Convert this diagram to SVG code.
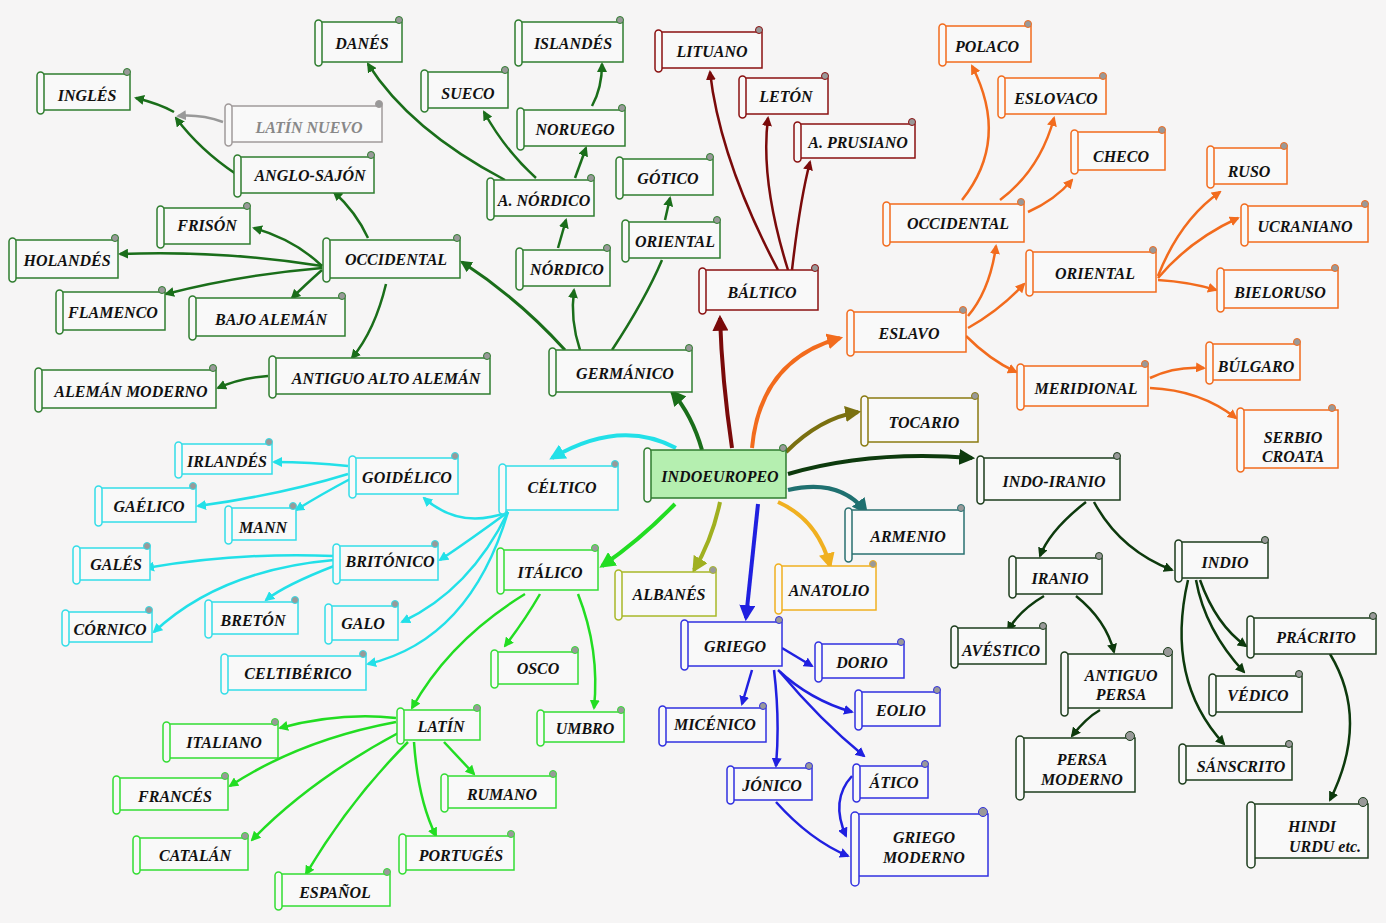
<svg xmlns="http://www.w3.org/2000/svg" width="1386" height="923" viewBox="0 0 1386 923">
<style>
text{font-family:"Liberation Serif",serif;font-weight:bold;font-style:italic;font-size:16px;fill:#111;text-anchor:middle}
.n rect{fill:#f9f9f9;stroke-width:1.5}
.n circle{fill:#999;stroke-width:1}
path{fill:none;stroke-width:2.5}
.g rect,.g circle{stroke:#2f7d2f}.gr rect,.gr circle{stroke:#a09a9a}.dr rect,.dr circle{stroke:#8a1010}.or rect,.or circle{stroke:#f26b1d}
.ol rect,.ol circle{stroke:#8a7a10}.dk rect,.dk circle{stroke:#1d3d1d}.te rect,.te circle{stroke:#2a7070}.go rect,.go circle{stroke:#f0b020}
.yg rect,.yg circle{stroke:#a8b828}.bl rect,.bl circle{stroke:#3030e0}.lg rect,.lg circle{stroke:#33dd33}.cy rect,.cy circle{stroke:#33dde8}
.gr text{fill:#888}
</style>
<defs>
<marker id="mg" viewBox="0 0 10 10" refX="8" refY="5" markerWidth="4" markerHeight="4" orient="auto"><path d="M0,0L10,5L0,10z" style="fill:#1a6e1a;stroke:none"/></marker>
<marker id="mgr" viewBox="0 0 10 10" refX="8" refY="5" markerWidth="4" markerHeight="4" orient="auto"><path d="M0,0L10,5L0,10z" style="fill:#999;stroke:none"/></marker>
<marker id="mdr" viewBox="0 0 10 10" refX="8" refY="5" markerWidth="4" markerHeight="4" orient="auto"><path d="M0,0L10,5L0,10z" style="fill:#7a0a0a;stroke:none"/></marker>
<marker id="mor" viewBox="0 0 10 10" refX="8" refY="5" markerWidth="4" markerHeight="4" orient="auto"><path d="M0,0L10,5L0,10z" style="fill:#f26b1d;stroke:none"/></marker>
<marker id="mol" viewBox="0 0 10 10" refX="8" refY="5" markerWidth="4" markerHeight="4" orient="auto"><path d="M0,0L10,5L0,10z" style="fill:#7a7010;stroke:none"/></marker>
<marker id="mdk" viewBox="0 0 10 10" refX="8" refY="5" markerWidth="4" markerHeight="4" orient="auto"><path d="M0,0L10,5L0,10z" style="fill:#0d3a0d;stroke:none"/></marker>
<marker id="mte" viewBox="0 0 10 10" refX="8" refY="5" markerWidth="4" markerHeight="4" orient="auto"><path d="M0,0L10,5L0,10z" style="fill:#1f7070;stroke:none"/></marker>
<marker id="mgo" viewBox="0 0 10 10" refX="8" refY="5" markerWidth="4" markerHeight="4" orient="auto"><path d="M0,0L10,5L0,10z" style="fill:#f0b020;stroke:none"/></marker>
<marker id="myg" viewBox="0 0 10 10" refX="8" refY="5" markerWidth="4" markerHeight="4" orient="auto"><path d="M0,0L10,5L0,10z" style="fill:#a0b020;stroke:none"/></marker>
<marker id="mbl" viewBox="0 0 10 10" refX="8" refY="5" markerWidth="4" markerHeight="4" orient="auto"><path d="M0,0L10,5L0,10z" style="fill:#2020e0;stroke:none"/></marker>
<marker id="mlg" viewBox="0 0 10 10" refX="8" refY="5" markerWidth="4" markerHeight="4" orient="auto"><path d="M0,0L10,5L0,10z" style="fill:#22dd22;stroke:none"/></marker>
<marker id="mcy" viewBox="0 0 10 10" refX="8" refY="5" markerWidth="4" markerHeight="4" orient="auto"><path d="M0,0L10,5L0,10z" style="fill:#22e0e8;stroke:none"/></marker>
</defs>
<rect width="1386" height="923" fill="#f6f5f5"/>
<g id="connectors">
<g stroke="#1a6e1a" marker-end="url(#mg)">
<path d="M565,350 Q520,300 462,262" style="stroke-width:3"/>
<path d="M580,350 Q570,320 574,290"/>
<path d="M612,350 Q645,300 662,260" marker-end="none"/>
<path d="M665,220 L670,198"/>
<path d="M558,248 L566,220"/>
<path d="M575,178 L586,148"/>
<path d="M536,178 Q505,150 484,112"/>
<path d="M505,180 Q410,130 368,64"/>
<path d="M592,106 Q602,88 602,64"/>
<path d="M368,238 Q356,212 334,192"/>
<path d="M236,174 Q200,150 176,118"/>
<path d="M174,112 Q160,104 136,98"/>
<path d="M322,266 Q295,240 254,228"/>
<path d="M322,266 Q220,250 120,254"/>
<path d="M322,268 Q240,275 166,294"/>
<path d="M322,270 Q305,285 292,298"/>
<path d="M386,284 Q375,330 352,358"/>
<path d="M268,376 Q240,378 218,388"/>
<path d="M702,450 Q692,415 672,392" style="stroke-width:4"/>
</g>
<path d="M223,122 Q200,114 178,116" stroke="#999" marker-end="url(#mgr)"/>
<g stroke="#7a0a0a" marker-end="url(#mdr)">
<path d="M778,270 Q720,160 710,72"/>
<path d="M788,270 Q760,180 768,118"/>
<path d="M792,270 Q800,200 810,162"/>
<path d="M732,448 Q722,380 720,318" style="stroke-width:4"/>
</g>
<g stroke="#f26b1d" marker-end="url(#mor)">
<path d="M752,448 Q760,360 840,338" style="stroke-width:4"/>
<path d="M968,316 Q990,290 996,246"/>
<path d="M968,328 Q1000,310 1024,284"/>
<path d="M966,336 Q990,360 1016,372"/>
<path d="M962,200 Q1010,140 972,66"/>
<path d="M1000,200 Q1040,170 1054,118"/>
<path d="M1028,212 Q1055,200 1072,180"/>
<path d="M1158,276 Q1180,220 1220,192"/>
<path d="M1158,278 Q1190,240 1238,218"/>
<path d="M1158,280 Q1190,282 1216,290"/>
<path d="M1150,378 Q1175,366 1204,368"/>
<path d="M1150,388 Q1200,390 1236,418"/>
</g>
<path d="M786,452 Q820,418 858,412" stroke="#7a7010" style="stroke-width:4" marker-end="url(#mol)"/>
<g stroke="#0d3a0d" marker-end="url(#mdk)">
<path d="M788,474 Q870,450 972,458" style="stroke-width:4"/>
<path d="M1086,502 Q1050,530 1040,556"/>
<path d="M1094,502 Q1120,550 1172,570"/>
<path d="M1044,596 Q1020,610 1008,630"/>
<path d="M1076,596 Q1106,620 1114,652"/>
<path d="M1100,710 Q1086,718 1072,736"/>
<path d="M1200,580 Q1216,625 1246,646"/>
<path d="M1196,580 Q1205,630 1244,672"/>
<path d="M1188,580 Q1165,680 1224,744"/>
<path d="M1330,654 Q1370,720 1330,800"/>
</g>
<path d="M788,490 Q840,478 866,512" stroke="#1f7070" style="stroke-width:4" marker-end="url(#mte)"/>
<path d="M778,502 Q818,520 830,566" stroke="#f0b020" style="stroke-width:4" marker-end="url(#mgo)"/>
<path d="M720,502 Q712,540 694,570" stroke="#a0b020" style="stroke-width:4" marker-end="url(#myg)"/>
<g stroke="#2020e0" marker-end="url(#mbl)">
<path d="M758,504 Q752,560 746,618" style="stroke-width:4"/>
<path d="M782,648 L812,666"/>
<path d="M752,670 L742,704"/>
<path d="M774,670 Q780,720 776,766"/>
<path d="M778,670 Q810,700 852,712"/>
<path d="M780,672 Q820,720 864,756"/>
<path d="M776,802 Q810,840 848,856"/>
<path d="M852,776 Q830,800 846,836"/>
</g>
<g stroke="#22dd22" marker-end="url(#mlg)">
<path d="M675,504 Q640,540 602,566" style="stroke-width:4"/>
<path d="M540,594 Q525,620 505,646"/>
<path d="M578,594 Q600,650 594,708"/>
<path d="M525,594 Q450,640 412,708"/>
<path d="M396,718 Q340,712 280,728"/>
<path d="M396,722 Q300,740 230,786"/>
<path d="M400,732 Q310,780 252,840"/>
<path d="M408,742 Q350,800 306,874"/>
<path d="M414,742 Q418,800 436,836"/>
<path d="M444,742 L474,774"/>
</g>
<g stroke="#22e0e8" marker-end="url(#mcy)">
<path d="M676,448 Q620,418 552,458" style="stroke-width:4"/>
<path d="M348,466 Q310,462 274,462"/>
<path d="M348,474 Q280,495 198,506"/>
<path d="M352,478 Q320,495 296,510"/>
<path d="M508,512 Q460,530 424,498"/>
<path d="M508,512 Q470,540 440,560"/>
<path d="M508,512 Q470,590 402,622"/>
<path d="M508,512 Q470,640 368,664"/>
<path d="M334,556 Q240,552 146,568"/>
<path d="M334,560 Q220,570 154,632"/>
<path d="M334,566 Q285,585 266,600"/>
</g>
</g>
<g id="n-danes" class="n g"><rect x="318" y="22" width="84" height="40"/><rect x="315" y="20" width="7" height="46" rx="3.5"/><circle cx="399" cy="20" r="3.5"/><text x="362" y="49">DANÉS</text></g>
<g id="n-islandes" class="n g"><rect x="518" y="22" width="105" height="40"/><rect x="515" y="20" width="7" height="46" rx="3.5"/><circle cx="620" cy="20" r="3.5"/><text x="573" y="49">ISLANDÉS</text></g>
<g id="n-ingles" class="n g"><rect x="40" y="74" width="90" height="36"/><rect x="37" y="72" width="7" height="42" rx="3.5"/><circle cx="127" cy="72" r="3.5"/><text x="87" y="101">INGLÉS</text></g>
<g id="n-sueco" class="n g"><rect x="424" y="72" width="84" height="36"/><rect x="421" y="70" width="7" height="42" rx="3.5"/><circle cx="505" cy="70" r="3.5"/><text x="468" y="99">SUECO</text></g>
<g id="n-latinnuevo" class="n gr"><rect x="228" y="106" width="154" height="36"/><rect x="225" y="104" width="7" height="42" rx="3.5"/><circle cx="379" cy="104" r="3.5"/><text x="309" y="133">LATÍN NUEVO</text></g>
<g id="n-noruego" class="n g"><rect x="520" y="110" width="105" height="36"/><rect x="517" y="108" width="7" height="42" rx="3.5"/><circle cx="622" cy="108" r="3.5"/><text x="575" y="135">NORUEGO</text></g>
<g id="n-anglosajon" class="n g"><rect x="237" y="157" width="137" height="36"/><rect x="234" y="155" width="7" height="42" rx="3.5"/><circle cx="371" cy="155" r="3.5"/><text x="310" y="181">ANGLO-SAJÓN</text></g>
<g id="n-gotico" class="n g"><rect x="619" y="159" width="94" height="36"/><rect x="616" y="157" width="7" height="42" rx="3.5"/><circle cx="710" cy="157" r="3.5"/><text x="668" y="184">GÓTICO</text></g>
<g id="n-anordico" class="n g"><rect x="490" y="180" width="104" height="36"/><rect x="487" y="178" width="7" height="42" rx="3.5"/><circle cx="591" cy="178" r="3.5"/><text x="544" y="206">A. NÓRDICO</text></g>
<g id="n-frison" class="n g"><rect x="160" y="208" width="90" height="36"/><rect x="157" y="206" width="7" height="42" rx="3.5"/><circle cx="247" cy="206" r="3.5"/><text x="207" y="231">FRISÓN</text></g>
<g id="n-oriental-g" class="n g"><rect x="625" y="222" width="95" height="36"/><rect x="622" y="220" width="7" height="42" rx="3.5"/><circle cx="717" cy="220" r="3.5"/><text x="675" y="247">ORIENTAL</text></g>
<g id="n-occidental-g" class="n g"><rect x="326" y="240" width="134" height="38"/><rect x="323" y="238" width="7" height="44" rx="3.5"/><circle cx="457" cy="238" r="3.5"/><text x="396" y="265">OCCIDENTAL</text></g>
<g id="n-holandes" class="n g"><rect x="12" y="240" width="106" height="38"/><rect x="9" y="238" width="7" height="44" rx="3.5"/><circle cx="115" cy="238" r="3.5"/><text x="67" y="266">HOLANDÉS</text></g>
<g id="n-nordico" class="n g"><rect x="519" y="250" width="91" height="36"/><rect x="516" y="248" width="7" height="42" rx="3.5"/><circle cx="607" cy="248" r="3.5"/><text x="567" y="275">NÓRDICO</text></g>
<g id="n-flamenco" class="n g"><rect x="59" y="292" width="106" height="38"/><rect x="56" y="290" width="7" height="44" rx="3.5"/><circle cx="162" cy="290" r="3.5"/><text x="113" y="318">FLAMENCO</text></g>
<g id="n-bajoaleman" class="n g"><rect x="192" y="298" width="153" height="38"/><rect x="189" y="296" width="7" height="44" rx="3.5"/><circle cx="342" cy="296" r="3.5"/><text x="271" y="325">BAJO ALEMÁN</text></g>
<g id="n-alemanmoderno" class="n g"><rect x="38" y="370" width="178" height="38"/><rect x="35" y="368" width="7" height="44" rx="3.5"/><circle cx="213" cy="368" r="3.5"/><text x="131" y="397">ALEMÁN MODERNO</text></g>
<g id="n-antiguoalto" class="n g"><rect x="272" y="358" width="218" height="36"/><rect x="269" y="356" width="7" height="42" rx="3.5"/><circle cx="487" cy="356" r="3.5"/><text x="386" y="384">ANTIGUO ALTO ALEMÁN</text></g>
<g id="n-germanico" class="n g"><rect x="552" y="350" width="140" height="42"/><rect x="549" y="348" width="7" height="48" rx="3.5"/><circle cx="689" cy="348" r="3.5"/><text x="625" y="379">GERMÁNICO</text></g>
<g id="n-indoeuropeo" class="n g"><rect x="647" y="450" width="139" height="48" style="fill:#b5efb0"/><rect x="644" y="448" width="7" height="54" rx="3.5"/><circle cx="783" cy="448" r="3.5"/><text x="720" y="482">INDOEUROPEO</text></g>
<g id="n-lituano" class="n dr"><rect x="658" y="32" width="104" height="36"/><rect x="655" y="30" width="7" height="42" rx="3.5"/><circle cx="759" cy="30" r="3.5"/><text x="712" y="57">LITUANO</text></g>
<g id="n-leton" class="n dr"><rect x="742" y="78" width="86" height="36"/><rect x="739" y="76" width="7" height="42" rx="3.5"/><circle cx="825" cy="76" r="3.5"/><text x="786" y="102">LETÓN</text></g>
<g id="n-aprusiano" class="n dr"><rect x="797" y="124" width="118" height="34"/><rect x="794" y="122" width="7" height="40" rx="3.5"/><circle cx="912" cy="122" r="3.5"/><text x="858" y="148">A. PRUSIANO</text></g>
<g id="n-baltico" class="n dr"><rect x="702" y="270" width="116" height="40"/><rect x="699" y="268" width="7" height="46" rx="3.5"/><circle cx="815" cy="268" r="3.5"/><text x="762" y="298">BÁLTICO</text></g>
<g id="n-polaco" class="n or"><rect x="942" y="26" width="89" height="36"/><rect x="939" y="24" width="7" height="42" rx="3.5"/><circle cx="1028" cy="24" r="3.5"/><text x="987" y="52">POLACO</text></g>
<g id="n-eslovaco" class="n or"><rect x="1001" y="78" width="105" height="36"/><rect x="998" y="76" width="7" height="42" rx="3.5"/><circle cx="1103" cy="76" r="3.5"/><text x="1056" y="104">ESLOVACO</text></g>
<g id="n-checo" class="n or"><rect x="1074" y="132" width="91" height="38"/><rect x="1071" y="130" width="7" height="44" rx="3.5"/><circle cx="1162" cy="130" r="3.5"/><text x="1121" y="162">CHECO</text></g>
<g id="n-occidental-o" class="n or"><rect x="886" y="204" width="138" height="38"/><rect x="883" y="202" width="7" height="44" rx="3.5"/><circle cx="1021" cy="202" r="3.5"/><text x="958" y="229">OCCIDENTAL</text></g>
<g id="n-ruso" class="n or"><rect x="1210" y="148" width="77" height="36"/><rect x="1207" y="146" width="7" height="42" rx="3.5"/><circle cx="1284" cy="146" r="3.5"/><text x="1249" y="177">RUSO</text></g>
<g id="n-ucraniano" class="n or"><rect x="1244" y="206" width="124" height="36"/><rect x="1241" y="204" width="7" height="42" rx="3.5"/><circle cx="1365" cy="204" r="3.5"/><text x="1305" y="232">UCRANIANO</text></g>
<g id="n-oriental-o" class="n or"><rect x="1029" y="252" width="127" height="40"/><rect x="1026" y="250" width="7" height="46" rx="3.5"/><circle cx="1153" cy="250" r="3.5"/><text x="1095" y="279">ORIENTAL</text></g>
<g id="n-bieloruso" class="n or"><rect x="1220" y="270" width="118" height="38"/><rect x="1217" y="268" width="7" height="44" rx="3.5"/><circle cx="1335" cy="268" r="3.5"/><text x="1280" y="298">BIELORUSO</text></g>
<g id="n-eslavo" class="n or"><rect x="850" y="312" width="116" height="40"/><rect x="847" y="310" width="7" height="46" rx="3.5"/><circle cx="963" cy="310" r="3.5"/><text x="909" y="339">ESLAVO</text></g>
<g id="n-bulgaro" class="n or"><rect x="1209" y="344" width="91" height="36"/><rect x="1206" y="342" width="7" height="42" rx="3.5"/><circle cx="1297" cy="342" r="3.5"/><text x="1256" y="372">BÚLGARO</text></g>
<g id="n-meridional" class="n or"><rect x="1020" y="366" width="128" height="40"/><rect x="1017" y="364" width="7" height="46" rx="3.5"/><circle cx="1145" cy="364" r="3.5"/><text x="1086" y="394">MERIDIONAL</text></g>
<g id="n-serbio" class="n or"><rect x="1240" y="410" width="98" height="58"/><rect x="1237" y="408" width="7" height="64" rx="3.5"/><circle cx="1332" cy="408" r="3.5"/><text x="1293" y="443">SERBIO</text><text x="1293" y="462">CROATA</text></g>
<g id="n-tocario" class="n ol"><rect x="864" y="398" width="114" height="44"/><rect x="861" y="396" width="7" height="50" rx="3.5"/><circle cx="975" cy="396" r="3.5"/><text x="924" y="428">TOCARIO</text></g>
<g id="n-indoiranio" class="n dk"><rect x="980" y="458" width="140" height="42"/><rect x="977" y="456" width="7" height="48" rx="3.5"/><circle cx="1117" cy="456" r="3.5"/><text x="1054" y="487">INDO-IRANIO</text></g>
<g id="n-armenio" class="n te"><rect x="848" y="510" width="116" height="44"/><rect x="845" y="508" width="7" height="54" rx="3.5"/><circle cx="961" cy="508" r="3.5"/><text x="908" y="542">ARMENIO</text></g>
<g id="n-iranio" class="n dk"><rect x="1012" y="558" width="90" height="36"/><rect x="1009" y="556" width="7" height="42" rx="3.5"/><circle cx="1099" cy="556" r="3.5"/><text x="1060" y="584">IRANIO</text></g>
<g id="n-indio" class="n dk"><rect x="1178" y="542" width="90" height="36"/><rect x="1175" y="540" width="7" height="42" rx="3.5"/><circle cx="1265" cy="540" r="3.5"/><text x="1225" y="568">INDIO</text></g>
<g id="n-avestico" class="n dk"><rect x="954" y="628" width="92" height="36"/><rect x="951" y="626" width="7" height="42" rx="3.5"/><circle cx="1043" cy="626" r="3.5"/><text x="1001" y="656">AVÉSTICO</text></g>
<g id="n-antiguopersa" class="n dk"><rect x="1064" y="654" width="108" height="54"/><rect x="1061" y="652" width="7" height="64" rx="3.5"/><circle cx="1168" cy="652" r="4.5"/><text x="1121" y="681">ANTIGUO</text><text x="1121" y="700">PERSA</text></g>
<g id="n-pracrito" class="n dk"><rect x="1250" y="618" width="126" height="36"/><rect x="1247" y="616" width="7" height="42" rx="3.5"/><circle cx="1373" cy="616" r="3.5"/><text x="1316" y="643">PRÁCRITO</text></g>
<g id="n-vedico" class="n dk"><rect x="1212" y="676" width="90" height="36"/><rect x="1209" y="674" width="7" height="42" rx="3.5"/><circle cx="1299" cy="674" r="3.5"/><text x="1258" y="701">VÉDICO</text></g>
<g id="n-persamoderno" class="n dk"><rect x="1019" y="738" width="116" height="54"/><rect x="1016" y="736" width="8" height="64" rx="4"/><circle cx="1130" cy="736" r="4.5"/><text x="1082" y="765">PERSA</text><text x="1082" y="785">MODERNO</text></g>
<g id="n-sanscrito" class="n dk"><rect x="1182" y="746" width="110" height="34"/><rect x="1179" y="744" width="7" height="40" rx="3.5"/><circle cx="1289" cy="744" r="3.5"/><text x="1241" y="772">SÁNSCRITO</text></g>
<g id="n-hindi" class="n dk"><rect x="1250" y="804" width="118" height="54"/><rect x="1247" y="802" width="8" height="66" rx="4"/><circle cx="1363" cy="802" r="4.5"/><text x="1312" y="832">HINDI</text><text x="1325" y="852">URDU  etc.</text></g>
<g id="n-anatolio" class="n go"><rect x="778" y="566" width="98" height="44"/><rect x="775" y="564" width="7" height="50" rx="3.5"/><circle cx="873" cy="564" r="3.5"/><text x="829" y="596">ANATOLIO</text></g>
<g id="n-albanes" class="n yg"><rect x="618" y="572" width="98" height="44"/><rect x="615" y="570" width="7" height="50" rx="3.5"/><circle cx="713" cy="570" r="3.5"/><text x="669" y="600">ALBANÉS</text></g>
<g id="n-griego" class="n bl"><rect x="684" y="622" width="98" height="44"/><rect x="681" y="620" width="7" height="50" rx="3.5"/><circle cx="779" cy="620" r="3.5"/><text x="735" y="652">GRIEGO</text></g>
<g id="n-dorio" class="n bl"><rect x="818" y="644" width="86" height="34"/><rect x="815" y="642" width="7" height="40" rx="3.5"/><circle cx="901" cy="642" r="3.5"/><text x="862" y="668">DORIO</text></g>
<g id="n-eolio" class="n bl"><rect x="858" y="692" width="82" height="34"/><rect x="855" y="690" width="7" height="40" rx="3.5"/><circle cx="937" cy="690" r="3.5"/><text x="901" y="716">EOLIO</text></g>
<g id="n-micenico" class="n bl"><rect x="662" y="708" width="104" height="34"/><rect x="659" y="706" width="7" height="40" rx="3.5"/><circle cx="763" cy="706" r="3.5"/><text x="715" y="730">MICÉNICO</text></g>
<g id="n-jonico" class="n bl"><rect x="730" y="768" width="82" height="32"/><rect x="727" y="766" width="7" height="38" rx="3.5"/><circle cx="809" cy="766" r="3.5"/><text x="772" y="791">JÓNICO</text></g>
<g id="n-atico" class="n bl"><rect x="856" y="766" width="72" height="32"/><rect x="853" y="764" width="7" height="38" rx="3.5"/><circle cx="925" cy="764" r="3.5"/><text x="894" y="788">ÁTICO</text></g>
<g id="n-griegomoderno" class="n bl"><rect x="854" y="814" width="134" height="62"/><rect x="851" y="812" width="8" height="74" rx="4"/><circle cx="983" cy="812" r="4.5"/><text x="924" y="843">GRIEGO</text><text x="924" y="863">MODERNO</text></g>
<g id="n-italico" class="n lg"><rect x="500" y="550" width="98" height="40"/><rect x="497" y="548" width="7" height="46" rx="3.5"/><circle cx="595" cy="548" r="3.5"/><text x="550" y="578">ITÁLICO</text></g>
<g id="n-osco" class="n lg"><rect x="494" y="652" width="84" height="32"/><rect x="491" y="650" width="7" height="38" rx="3.5"/><circle cx="575" cy="650" r="3.5"/><text x="538" y="674">OSCO</text></g>
<g id="n-umbro" class="n lg"><rect x="540" y="712" width="84" height="30"/><rect x="537" y="710" width="7" height="36" rx="3.5"/><circle cx="621" cy="710" r="3.5"/><text x="585" y="734">UMBRO</text></g>
<g id="n-latin" class="n lg"><rect x="400" y="710" width="80" height="30"/><rect x="397" y="708" width="7" height="36" rx="3.5"/><circle cx="477" cy="708" r="3.5"/><text x="441" y="732">LATÍN</text></g>
<g id="n-italiano" class="n lg"><rect x="166" y="724" width="112" height="34"/><rect x="163" y="722" width="7" height="40" rx="3.5"/><circle cx="275" cy="722" r="3.5"/><text x="224" y="748">ITALIANO</text></g>
<g id="n-rumano" class="n lg"><rect x="444" y="776" width="112" height="32"/><rect x="441" y="774" width="7" height="38" rx="3.5"/><circle cx="553" cy="774" r="3.5"/><text x="502" y="800">RUMANO</text></g>
<g id="n-frances" class="n lg"><rect x="116" y="778" width="112" height="32"/><rect x="113" y="776" width="7" height="38" rx="3.5"/><circle cx="225" cy="776" r="3.5"/><text x="175" y="802">FRANCÉS</text></g>
<g id="n-portuges" class="n lg"><rect x="402" y="836" width="112" height="34"/><rect x="399" y="834" width="7" height="40" rx="3.5"/><circle cx="511" cy="834" r="3.5"/><text x="461" y="861">PORTUGÉS</text></g>
<g id="n-catalan" class="n lg"><rect x="136" y="838" width="112" height="32"/><rect x="133" y="836" width="7" height="38" rx="3.5"/><circle cx="245" cy="836" r="3.5"/><text x="195" y="861">CATALÁN</text></g>
<g id="n-espanol" class="n lg"><rect x="278" y="874" width="112" height="32"/><rect x="275" y="872" width="7" height="38" rx="3.5"/><circle cx="387" cy="872" r="3.5"/><text x="335" y="898">ESPAÑOL</text></g>
<g id="n-celtico" class="n cy"><rect x="502" y="466" width="116" height="44"/><rect x="499" y="464" width="7" height="50" rx="3.5"/><circle cx="615" cy="464" r="3.5"/><text x="562" y="493">CÉLTICO</text></g>
<g id="n-irlandes" class="n cy"><rect x="178" y="444" width="94" height="30"/><rect x="175" y="442" width="7" height="36" rx="3.5"/><circle cx="269" cy="442" r="3.5"/><text x="227" y="467">IRLANDÉS</text></g>
<g id="n-goidelico" class="n cy"><rect x="352" y="458" width="106" height="36"/><rect x="349" y="456" width="7" height="42" rx="3.5"/><circle cx="455" cy="456" r="3.5"/><text x="407" y="483">GOIDÉLICO</text></g>
<g id="n-gaelico" class="n cy"><rect x="98" y="488" width="98" height="34"/><rect x="95" y="486" width="7" height="40" rx="3.5"/><circle cx="193" cy="486" r="3.5"/><text x="149" y="512">GAÉLICO</text></g>
<g id="n-mann" class="n cy"><rect x="228" y="508" width="68" height="32"/><rect x="225" y="506" width="7" height="38" rx="3.5"/><circle cx="293" cy="506" r="3.5"/><text x="263" y="533">MANN</text></g>
<g id="n-gales" class="n cy"><rect x="76" y="548" width="74" height="32"/><rect x="73" y="546" width="7" height="38" rx="3.5"/><circle cx="147" cy="546" r="3.5"/><text x="116" y="570">GALÉS</text></g>
<g id="n-britonico" class="n cy"><rect x="336" y="546" width="102" height="34"/><rect x="333" y="544" width="7" height="40" rx="3.5"/><circle cx="435" cy="544" r="3.5"/><text x="390" y="567">BRITÓNICO</text></g>
<g id="n-breton" class="n cy"><rect x="208" y="602" width="90" height="32"/><rect x="205" y="600" width="7" height="38" rx="3.5"/><circle cx="295" cy="600" r="3.5"/><text x="253" y="626">BRETÓN</text></g>
<g id="n-galo" class="n cy"><rect x="328" y="606" width="70" height="34"/><rect x="325" y="604" width="7" height="40" rx="3.5"/><circle cx="395" cy="604" r="3.5"/><text x="363" y="629">GALO</text></g>
<g id="n-cornico" class="n cy"><rect x="65" y="612" width="87" height="30"/><rect x="62" y="610" width="7" height="36" rx="3.5"/><circle cx="149" cy="610" r="3.5"/><text x="110" y="635">CÓRNICO</text></g>
<g id="n-celtiberico" class="n cy"><rect x="224" y="656" width="142" height="34"/><rect x="221" y="654" width="7" height="40" rx="3.5"/><circle cx="363" cy="654" r="3.5"/><text x="298" y="679">CELTIBÉRICO</text></g>
</svg>
